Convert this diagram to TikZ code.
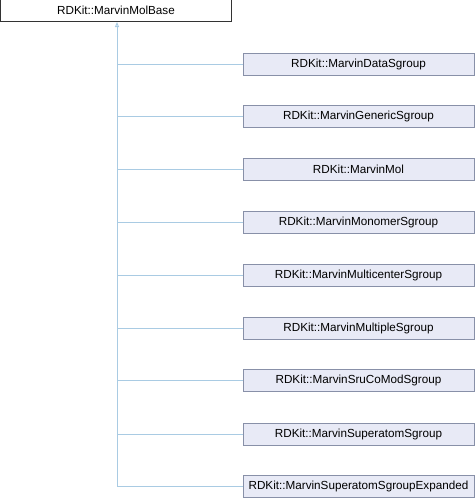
\documentclass[tikz,border=0pt]{standalone}
\usepackage{fontspec}
\setmainfont{Liberation Sans}
\usetikzlibrary{arrows.meta}
\definecolor{boxfill}{HTML}{E8EAF6}
\definecolor{boxline}{HTML}{8890A8}
\definecolor{edgeblue}{HTML}{A9CBE3}
\tikzset{
  classbox/.style={draw=boxline, fill=boxfill, line width=1pt, minimum width=231pt,
    minimum height=22pt, inner sep=0pt, font=\fontsize{11.7}{13}\selectfont},
  basebox/.style={classbox, draw=black!80, fill=white},
  inherit/.style={draw=edgeblue, line width=1pt}
}
\begin{document}
\begin{tikzpicture}[x=1pt,y=-1pt]
  \useasboundingbox (0,0) rectangle (474,498);

  % Base class
  \node[basebox] (molbase) at (116,10.5) {RDKit::MarvinMolBase};

  % Derived classes
  \node[classbox] (datasg)        at (358.5,64)    {RDKit::MarvinDataSgroup};
  \node[classbox] (genericsg)     at (358.5,116.5) {RDKit::MarvinGenericSgroup};
  \node[classbox] (mol)           at (358.5,169.5) {RDKit::MarvinMol};
  \node[classbox] (monomersg)     at (358.5,222)   {RDKit::MarvinMonomerSgroup};
  \node[classbox] (multicentersg) at (358.5,275.5) {RDKit::MarvinMulticenterSgroup};
  \node[classbox] (multiplesg)    at (358.5,328)   {RDKit::MarvinMultipleSgroup};
  \node[classbox] (srusg)         at (358.5,380.5) {RDKit::MarvinSruCoModSgroup};
  \node[classbox] (superatomsg)   at (358.5,434)   {RDKit::MarvinSuperatomSgroup};
  \node[classbox] (superatomexp)  at (358.5,486)   {RDKit::MarvinSuperatomSgroupExpanded};

  % Trunk to base class
  \coordinate (trunk) at (117,486);
  \draw[inherit, -{Triangle[open,length=5pt,width=4pt]}] (trunk) -- (molbase.south -| trunk);

  % Branches
  \draw[inherit] (datasg.west -| trunk) -- (datasg.west);
  \draw[inherit] (genericsg.west -| trunk) -- (genericsg.west);
  \draw[inherit] (mol.west -| trunk) -- (mol.west);
  \draw[inherit] (monomersg.west -| trunk) -- (monomersg.west);
  \draw[inherit] (multicentersg.west -| trunk) -- (multicentersg.west);
  \draw[inherit] (multiplesg.west -| trunk) -- (multiplesg.west);
  \draw[inherit] (srusg.west -| trunk) -- (srusg.west);
  \draw[inherit] (superatomsg.west -| trunk) -- (superatomsg.west);
  \draw[inherit] (trunk) -- (superatomexp.west);
\end{tikzpicture}
\end{document}
